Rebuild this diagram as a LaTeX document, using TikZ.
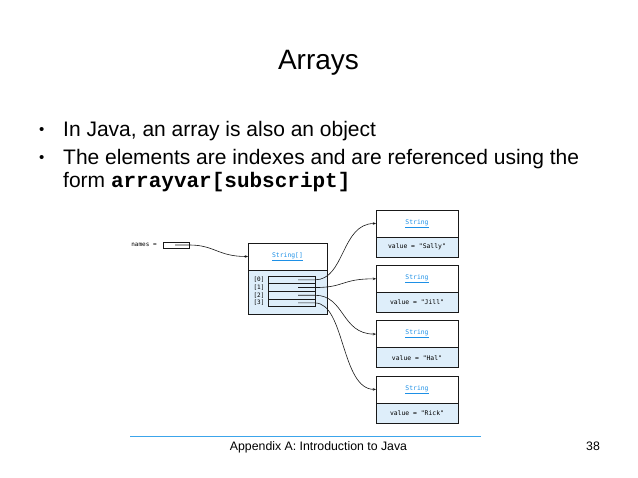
\documentclass[tikz,border=0pt]{standalone}
\usepackage{fontspec}
\setmainfont{Liberation Sans}
\setmonofont{Liberation Mono}
\newfontfamily\diagfont{DejaVu Sans Mono}
\usetikzlibrary{positioning,arrows.meta}
\definecolor{javablue}{RGB}{30,144,230}
\definecolor{boxblue}{RGB}{222,238,250}
\definecolor{footblue}{RGB}{60,165,235}
\tikzset{
  objtop/.style={draw=black!90, line width=0.7pt, minimum width=82pt, minimum height=27pt,
    inner sep=0pt, outer sep=0pt, font=\diagfont\fontsize{6.4}{7}\selectfont, text=javablue},
  objval/.style={objtop, minimum height=20pt, fill=boxblue, text=black},
  cellbox/.style={draw=black!90, line width=0.6pt, minimum width=47pt, minimum height=7.7pt,
    inner sep=0pt, outer sep=0pt},
  ref/.style={line width=0.6pt, black!90, -{Stealth[length=3.2pt,width=2.6pt]}},
  slidetext/.style={anchor=base west, inner sep=0pt, font=\fontsize{21}{25}\selectfont}
}
\begin{document}
\begin{tikzpicture}[x=1pt, y=-1pt]
  \useasboundingbox (0,0) rectangle (638,478);

	\node[anchor=base, inner sep=0pt, font=\fontsize{28}{34}\selectfont] (title) at (318.5,70) {Arrays};

	\node[slidetext, font=\fontsize{15}{18}\selectfont] (dot1) at (39,134.5) {\textbullet};
	\node[slidetext, font=\fontsize{15}{18}\selectfont] (dot2) at (39,162.5) {\textbullet};
	\node[slidetext] (line1) at (63,137) {In Java, an array is also an object};
	\node[slidetext] (line2) at (63,165) {The elements are indexes and are referenced using the};
	\node[slidetext] (line3) at (63,188) {form \textbf{\ttfamily arrayvar[subscript]}};

	% the variable
	\node[inner sep=0pt, font=\diagfont\fontsize{6}{7}\selectfont] (names) at (144,245) {names =};
	\node[cellbox, minimum width=26pt, minimum height=6pt] (namebox) at (176.5,245) {};
	\coordinate (np) at (175,245);

	% the array object
	\node[objtop, minimum width=79pt] (arrtop) at (287.5,256.5) {\underline{String[]}};
	\node[objval, minimum width=79pt, minimum height=44pt, below=0pt of arrtop] (arrbody) {};

	\foreach \k in {0,...,3} {
		\node[cellbox] (cell\k) at (291.5,279.85+7.7*\k) {};
		\node[inner sep=0pt, font=\diagfont\fontsize{6}{7}\selectfont] (idx\k) at (259,279.85+7.7*\k) {[\k]};
		\coordinate (p\k) at (298,279.85+7.7*\k);
	}

	% the strings
	\foreach \val [count=\i from 0] in {Sally,Jill,Hal,Rick} {
		\node[objtop] (str\i) at (417,223.5+55.3*\i) {\underline{String}};
		\node[objval, below=0pt of str\i] (val\i) {value = "\val"};
	}

	\draw[ref] (np) -- (namebox.east) .. controls +(25,0) and +(-30,0) .. (arrtop.west);
	\foreach \k in {0,...,3}
		\draw[ref] (p\k) -- (cell\k.east) .. controls +(30,0) and +(-35,0) .. (str\k.west);

	\draw[footblue, line width=1pt] (130,437) -- (481,437);
	\node[anchor=base, inner sep=0pt, font=\fontsize{12.3}{14}\selectfont] (foot) at (318.5,451) {Appendix A: Introduction to Java};
	\node[anchor=base, inner sep=0pt, font=\fontsize{12.3}{14}\selectfont] (page) at (593,451) {38};
\end{tikzpicture}
\end{document}
